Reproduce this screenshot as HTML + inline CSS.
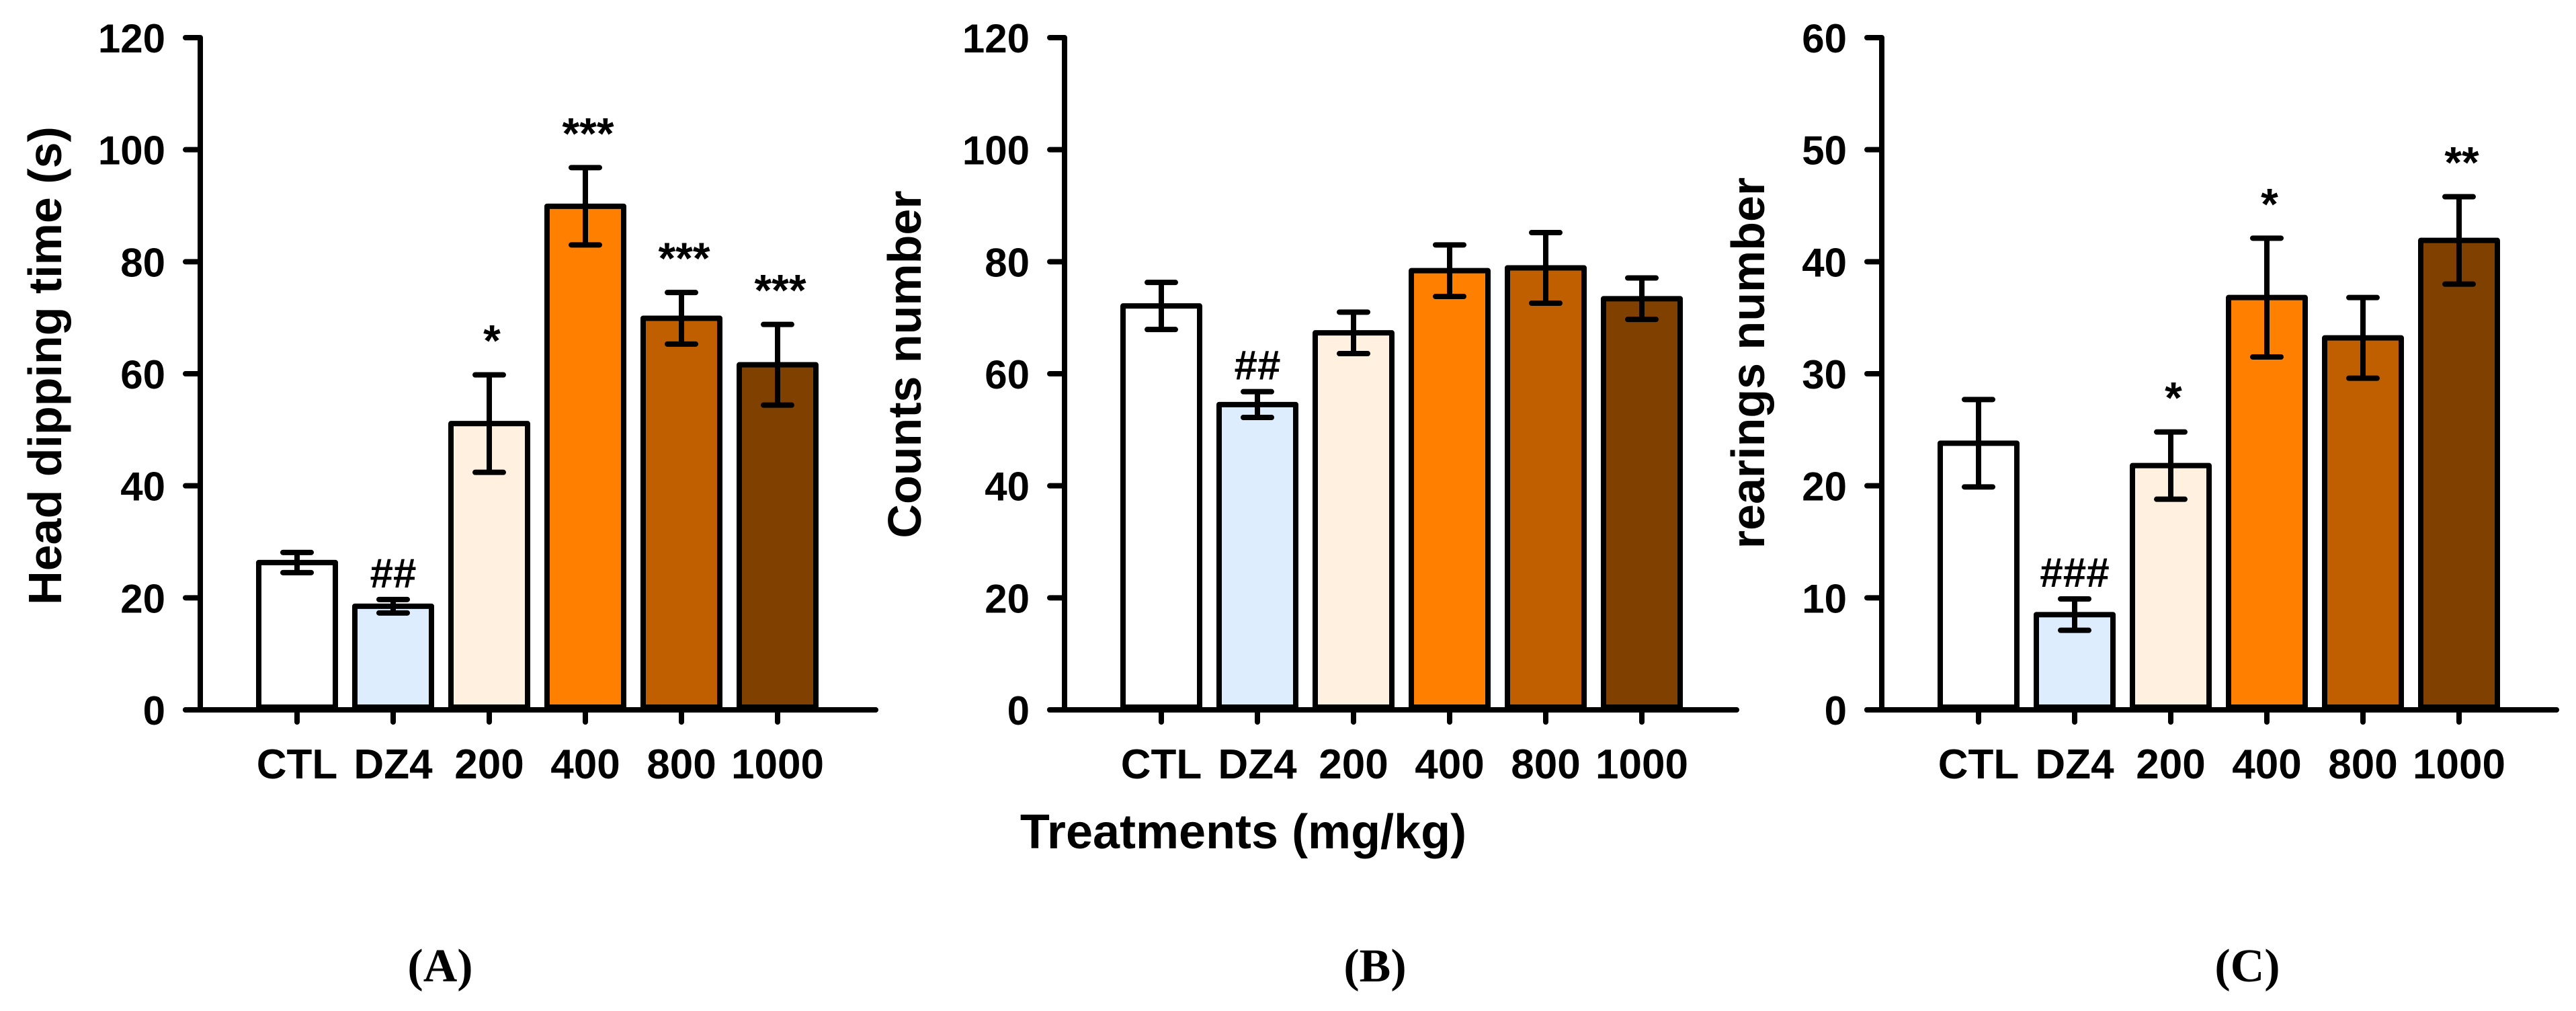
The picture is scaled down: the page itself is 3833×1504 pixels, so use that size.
<!DOCTYPE html>
<html><head><meta charset="utf-8">
<style>
html,body{margin:0;padding:0;background:#fff;}
svg{display:block;}
text{font-family:"Liberation Sans",Arial,sans-serif;font-weight:bold;fill:#000;}
.lbl{font-family:"Liberation Serif","Times New Roman",serif;}
</style></head>
<body>
<svg id="fig" width="3833" height="1504" viewBox="0 0 3833 1504" xmlns="http://www.w3.org/2000/svg"></svg>
<script>
const categories = ["CTL","DZ4","200","400","800","1000"];
const colors = ["#ffffff","#deedfd","#fff0e0","#ff8000","#bf5f00","#804000"];
const valuesA = [26.3,18.5,51.1,89.9,69.9,61.6];
const errorsA = [1.8,1.2,8.7,6.9,4.6,7.2];
const marksA = ["","##","*","***","***","***"];
const valuesB = [72.1,54.5,67.3,78.4,78.9,73.4];
const errorsB = [4.2,2.3,3.7,4.6,6.3,3.7];
const marksB = ["","##","","","",""];
const valuesC = [23.8,8.5,21.8,36.8,33.2,41.9];
const errorsC = [3.9,1.4,3.0,5.3,3.6,3.9];
const marksC = ["","###","*","*","","**"];
const ticksA = [0,20,40,60,80,100,120];
const ticksB = [0,20,40,60,80,100,120];
const ticksC = [0,10,20,30,40,50,60];

const NS="http://www.w3.org/2000/svg";
const svg=document.getElementById('fig');
function mk(tag,attrs,parent){const e=document.createElementNS(NS,tag);for(const k in attrs)e.setAttribute(k,attrs[k]);(parent||svg).appendChild(e);return e;}

const panels=[
 {id:'a',ax:298,xEnd:1303,x0:442,vals:valuesA,errs:errorsA,marks:marksA,ticks:ticksA,max:120,title:'Head dipping time (s)',tx:66,ty:544,lbl:'(A)',lx:655},
 {id:'b',ax:1584,xEnd:2584,x0:1728,vals:valuesB,errs:errorsB,marks:marksB,ticks:ticksB,max:120,title:'Counts number',tx:1345,ty:542,lbl:'(B)',lx:2046},
 {id:'c',ax:2800,xEnd:3804,x0:2944,vals:valuesC,errs:errorsC,marks:marksC,ticks:ticksC,max:60,title:'rearings number',tx:2600,ty:540,lbl:'(C)',lx:3344}
];
const Y0=1056, YT=56, STEP=143, BW=114, SW=8;

panels.forEach(p=>{
  const g=mk('g',{});
  
  
  const y=v=>Y0-(v/p.max)*(Y0-YT);
  const x=i=>p.x0+i*STEP;
  p.vals.forEach((v,i)=>{
    const r=mk('rect',{x:x(i)-BW/2,y:y(v),width:BW,height:Y0-4-y(v),fill:colors[i],stroke:'#000','stroke-width':SW,'stroke-linejoin':'round'},g);
    
    
    const e=mk('path',{d:`M${x(i)} ${y(v+p.errs[i])}V${y(v-p.errs[i])}M${x(i)-21} ${y(v+p.errs[i])}h42M${x(i)-21} ${y(v-p.errs[i])}h42`,stroke:'#000','stroke-width':SW,'stroke-linecap':'round',fill:'none'},g);
    
    
    if(p.marks[i]){
      const isHash=p.marks[i][0]==='#';
      const top=y(v+p.errs[i]);
      const t=mk('text',{x:x(i)+(isHash?0:4),y:isHash?top-18:top-28,'font-size':isHash?62:66,'text-anchor':'middle'},g);
      t.textContent=p.marks[i];
      
      
    }
    const tk=mk('line',{x1:x(i),x2:x(i),y1:Y0,y2:Y0+18,stroke:'#000','stroke-width':SW,'stroke-linecap':'round'},g);
    
    
    const ct=mk('text',{x:x(i),y:1158,'font-size':62,'text-anchor':'middle'},g);
    ct.textContent=categories[i];
    
    
  });
  const ya=mk('line',{x1:p.ax,x2:p.ax,y1:YT,y2:Y0,stroke:'#000','stroke-width':SW},g);
  
  
  const xa=mk('line',{x1:p.ax-22,x2:p.xEnd,y1:Y0,y2:Y0,stroke:'#000','stroke-width':SW,'stroke-linecap':'round'},g);
  
  
  p.ticks.forEach(t=>{
    const l=mk('line',{x1:p.ax-22,x2:p.ax,y1:y(t),y2:y(t),stroke:'#000','stroke-width':SW,'stroke-linecap':'round'},g);
    
    
    const tt=mk('text',{x:p.ax-52,y:y(t)+22,'font-size':60,'text-anchor':'end'},g);
    tt.textContent=t;
    
    
  });
  const ti=mk('text',{x:0,y:0,'font-size':70,'text-anchor':'middle',transform:`translate(${p.tx+25},${p.ty}) rotate(-90)`},g);
  ti.textContent=p.title;
  
  
  const pl=mk('text',{x:p.lx,y:1460,'font-size':70,'text-anchor':'middle','class':'lbl'},g);
  pl.textContent=p.lbl;
  
  
});
const xt=mk('text',{x:1850,y:1262,'font-size':72,'text-anchor':'middle'});
xt.textContent='Treatments (mg/kg)';


</script>
</body></html>
